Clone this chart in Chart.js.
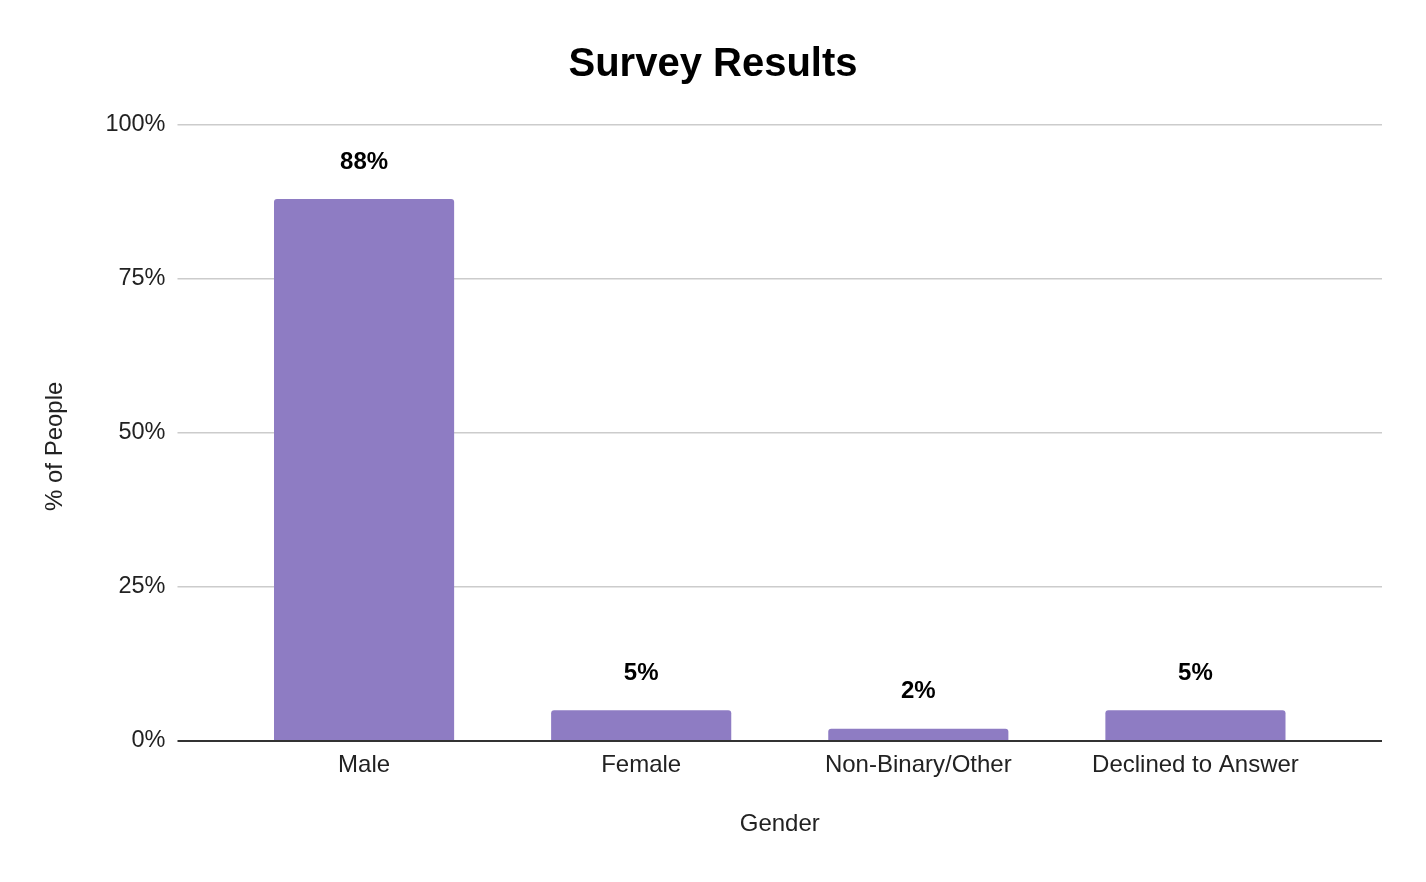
<!DOCTYPE html>
<html>
<head>
<meta charset="utf-8">
<script src="https://cdn.jsdelivr.net/npm/chart.js@4.4.1/dist/chart.umd.min.js"></script>
<style>
  html, body { margin: 0; padding: 0; background: #fff; }
  #wrap { width: 1426px; height: 882px; }
</style>
</head>
<body>
<div id="wrap"><canvas id="chart"></canvas></div>
<script>
// Data
const genders = ["Male", "Female", "Non-Binary/Other", "Declined to Answer"];
const percentPeople = [88, 5, 2, 5];
const yTicks = [0, 25, 50, 75, 100];

const FONT = "'Liberation Sans', Arial, sans-serif";
const GRID = "#cccccc";
const AXIS = "#333333";
const SIDE = 48; // grid lines run past the bar area on both sides

// value labels above the bars
const barLabels = {
  id: "barLabels",
  afterDatasetsDraw(chart) {
    const ctx = chart.ctx;
    const meta = chart.getDatasetMeta(0);
    ctx.save();
    ctx.font = "bold 24px " + FONT;
    ctx.fillStyle = "#000";
    ctx.textAlign = "center";
    ctx.textBaseline = "middle";
    meta.data.forEach((bar, i) => {
      ctx.fillText(percentPeople[i] + "%", bar.x, bar.y - 37);
    });
    ctx.restore();
  }
};

Chart.defaults.font.family = FONT;

const gridColor = c => (c.tick && c.tick.value === 0 ? AXIS : GRID);
const gridWidth = c => (c.tick && c.tick.value === 0 ? 2 : 1.5);

new Chart(document.getElementById("chart"), {
  type: "bar",
  data: {
    labels: genders,
    datasets: [{
      label: "% of People",
      data: percentPeople,
      backgroundColor: "#8e7cc3",
      borderRadius: { topLeft: 3, topRight: 3 },
      borderSkipped: "bottom",
      categoryPercentage: 1,
      barPercentage: 0.65
    }]
  },
  options: {
    responsive: true,
    maintainAspectRatio: false,
    animation: false,
    layout: { padding: { left: 40.5, right: 40.5, top: 0, bottom: 39 } },
    plugins: {
      legend: { display: false },
      tooltip: { enabled: false },
      title: {
        display: true,
        text: "Survey Results",
        color: "#000",
        font: { size: 40, weight: "bold" },
        padding: { top: 41, bottom: 36 }
      }
    },
    scales: {
      x: {
        grid: { display: false, drawTicks: false },
        border: { display: true, color: AXIS, width: 2 },
        ticks: { color: "#222", font: { size: 24 }, padding: 10, maxRotation: 0 },
        title: { display: true, text: "Gender", color: "#222", font: { size: 24 } },
        afterFit(scale) { scale.height = 102; }
      },
      y: {
        min: 0,
        max: 100,
        afterBuildTicks(scale) { scale.ticks = yTicks.map(v => ({ value: v })); },
        grid: { color: gridColor, lineWidth: gridWidth, drawTicks: true, tickLength: SIDE },
        border: { display: false },
        ticks: { color: "#222", font: { size: 23.5 }, padding: 12, callback: v => v + "%" },
        title: {
          display: true, text: "% of People    ", color: "#222", font: { size: 24 },
          padding: { top: 0.5, bottom: 4 }
        },
        afterFit(scale) { scale.width = 185; }
      },
      yRight: {
        type: "linear",
        position: "right",
        min: 0,
        max: 100,
        afterBuildTicks(scale) { scale.ticks = yTicks.map(v => ({ value: v })); },
        grid: { color: gridColor, lineWidth: gridWidth, drawOnChartArea: false, drawTicks: true, tickLength: SIDE },
        border: { display: false },
        ticks: { display: false },
        afterFit(scale) { scale.width = 51.5; }
      }
    }
  },
  plugins: [barLabels]
});
</script>
</body>
</html>
